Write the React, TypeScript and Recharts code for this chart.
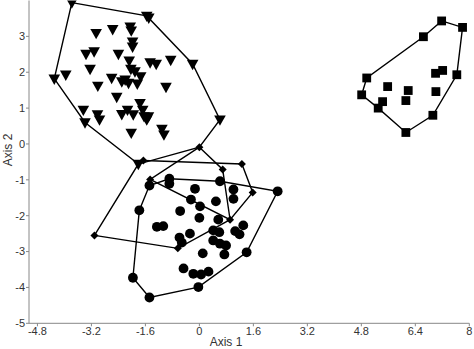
import { ScatterChart, Scatter, XAxis, YAxis } from 'recharts';

// ordination scores
const triPts: [number, number][] = [
  [-3.78, 3.94], [-1.56, 3.57], [-1.5, 3.52], [-0.2, 2.23], [0.61, 0.68], [-1.81, -0.56],
  [-3.39, 0.6], [-4.3, 1.82],
  [-3.06, 3.09], [-2.57, 3.2], [-2.05, 3.27], [-2.02, 3.16], [-1.98, 2.85], [-1.98, 2.71],
  [-3.36, 2.51], [-3.12, 2.58], [-2.4, 2.51], [-2.08, 2.32], [-3.24, 2.09], [-3.96, 1.93],
  [-2.6, 1.84], [-2.03, 2.09], [-1.91, 2.02], [-1.74, 1.88], [-2.2, 1.79], [-2.1, 1.7],
  [-1.84, 1.68], [-1.46, 2.27], [-1.28, 2.23], [-0.85, 2.34], [-0.99, 1.59], [-3.01, 1.62],
  [-2.45, 1.31], [-3.44, 0.95], [-3.02, 0.82], [-2.96, 0.68], [-2.3, 0.83], [-2.13, 0.95],
  [-1.96, 0.82], [-1.76, 1.14], [-1.68, 0.95], [-1.64, 0.77], [-1.51, 0.77], [-1.56, 0.68],
  [-2.02, 0.31], [-1.11, 0.42], [-1.05, 0.26], [-2.3, 1.74],
];

const circlePts: [number, number][] = [
  [-1.48, -1.16], [-0.89, -0.97], [-0.89, -1.11], [-0.13, -1.25], [0.61, -1.04], [1.01, -1.27],
  [-0.25, -1.55], [0.49, -1.6], [1.01, -1.53], [0.02, -1.74], [-1.78, -1.85], [-0.57, -1.87],
  [0.0, -2.06], [0.56, -2.11], [-1.26, -2.31], [-1.07, -2.29], [-0.28, -2.5], [0.41, -2.41],
  [0.59, -2.46], [1.06, -2.43], [1.19, -2.52], [1.3, -2.27], [-0.59, -2.61], [-0.52, -2.75],
  [0.41, -2.69], [0.61, -2.78], [0.79, -2.83], [0.74, -3.08], [0.1, -3.05], [-0.47, -3.47],
  [-0.18, -3.62], [0.05, -3.64], [0.27, -3.56], [-1.97, -3.73], [-1.48, -4.28], [-0.03, -3.99],
  [1.4, -3.02], [2.32, -1.32],
];

const squarePts: [number, number][] = [
  [7.18, 3.43], [7.8, 3.25], [6.64, 2.99], [4.96, 1.84], [4.81, 1.37], [5.3, 1.0],
  [6.12, 0.32], [6.92, 0.8], [7.63, 1.93], [5.43, 1.18], [5.58, 1.6], [6.19, 1.49],
  [6.12, 1.21], [7.01, 1.46], [7.0, 1.97], [7.21, 2.05],
];

const diamondPts: [number, number][] = [
  [-3.11, -2.55], [-1.66, -0.46], [0.0, -0.09], [0.69, -0.71], [1.26, -0.56],
  [1.58, -1.35], [0.91, -2.11], [-0.64, -2.91], [-1.46, -0.99],
];

// outlines, in drawing order
const triHull: [number, number][] = [
  [-3.78, 3.94], [-1.56, 3.57], [-0.2, 2.23], [0.61, 0.68], [0.0, -0.09],
  [-1.81, -0.56], [-3.39, 0.6], [-4.3, 1.82], [-3.78, 3.94],
];
const circleHull: [number, number][] = [
  [-1.78, -1.85], [-1.48, -1.16], [-0.89, -0.97], [0.61, -1.04], [2.32, -1.32],
  [1.4, -3.02], [-0.03, -3.99], [-1.48, -4.28], [-1.97, -3.73], [-1.78, -1.85],
];
const squareHull: [number, number][] = [
  [7.18, 3.43], [7.8, 3.25], [7.63, 1.93], [6.92, 0.8], [6.12, 0.32],
  [5.3, 1.0], [4.81, 1.37], [4.96, 1.84], [6.64, 2.99], [7.18, 3.43],
];
const diamondHullA: [number, number][] = [
  [-3.11, -2.55], [-1.81, -0.56], [-1.66, -0.46], [1.26, -0.56], [1.58, -1.35],
  [0.91, -2.11], [-0.64, -2.91], [-3.11, -2.55],
];
const diamondHullB: [number, number][] = [
  [0.0, -0.09], [0.69, -0.71], [0.91, -2.11], [-1.46, -0.99], [0.0, -0.09],
];

const X_TICKS = [-4.8, -3.2, -1.6, 0, 1.6, 3.2, 4.8, 6.4, 8];
const Y_TICKS = [-5, -4, -3, -2, -1, 0, 1, 2, 3];

const toXY = (pts: [number, number][]) => pts.map(([x, y]) => ({ x, y }));

const DownTriangle = ({ cx, cy }: any) => (
  <polygon points={`${cx - 5.8},${cy - 4.2} ${cx + 5.8},${cy - 4.2} ${cx},${cy + 6.2}`} fill="#000" />
);
const Dot = ({ cx, cy }: any) => <circle cx={cx} cy={cy} r={4.9} fill="#000" />;
const Square = ({ cx, cy }: any) => <rect x={cx - 4.4} y={cy - 4.4} width={8.8} height={8.8} fill="#000" />;
const Diamond = ({ cx, cy }: any) => (
  <polygon points={`${cx},${cy - 4} ${cx + 4},${cy} ${cx},${cy + 4} ${cx - 4},${cy}`} fill="#000" />
);
const NoMark = () => <g />;

const XLabel = () => (
  <text x={226} y={346} textAnchor="middle" fontSize={12} fill="#333" fontFamily="Liberation Sans, Arial, sans-serif">
    Axis 1
  </text>
);
const YLabel = () => (
  <text x={12} y={150} transform="rotate(-90 12 150)" textAnchor="middle" fontSize={12} fill="#333"
    fontFamily="Liberation Sans, Arial, sans-serif">
    Axis 2
  </text>
);

const hullLine = { stroke: '#000', strokeWidth: 1.4 };
const tickStyle = { fontSize: 11, fill: '#333', fontFamily: 'Liberation Sans, Arial, sans-serif' };

export default function App() {
  return (
    <div style={{ position: 'absolute', left: 0, top: 0, width: 474, height: 349, background: '#fff' }}>
      <ScatterChart width={474} height={349} margin={{ top: 0.5, right: 4.7, bottom: 0, left: 0 }}>
        <XAxis
          type="number"
          dataKey="x"
          domain={[-5.05, 8]}
          ticks={X_TICKS}
          allowDataOverflow
          height={25.7}
          tickSize={3}
          tickMargin={1}
          tick={tickStyle}
          axisLine={{ stroke: '#888' }}
          tickLine={{ stroke: '#888' }}
          label={<XLabel />}
        />
        <YAxis
          type="number"
          dataKey="y"
          domain={[-5, 4]}
          ticks={Y_TICKS}
          allowDataOverflow
          width={29}
          tickSize={3}
          tickMargin={1}
          tick={tickStyle}
          axisLine={{ stroke: '#888' }}
          tickLine={{ stroke: '#888' }}
          label={<YLabel />}
        />
        <Scatter data={toXY(triHull)} line={hullLine} shape={NoMark} isAnimationActive={false} />
        <Scatter data={toXY(circleHull)} line={hullLine} shape={NoMark} isAnimationActive={false} />
        <Scatter data={toXY(squareHull)} line={hullLine} shape={NoMark} isAnimationActive={false} />
        <Scatter data={toXY(diamondHullA)} line={hullLine} shape={NoMark} isAnimationActive={false} />
        <Scatter data={toXY(diamondHullB)} line={hullLine} shape={NoMark} isAnimationActive={false} />
        <Scatter data={toXY(triPts)} shape={DownTriangle} isAnimationActive={false} />
        <Scatter data={toXY(circlePts)} shape={Dot} isAnimationActive={false} />
        <Scatter data={toXY(squarePts)} shape={Square} isAnimationActive={false} />
        <Scatter data={toXY(diamondPts)} shape={Diamond} isAnimationActive={false} />
      </ScatterChart>
    </div>
  );
}
